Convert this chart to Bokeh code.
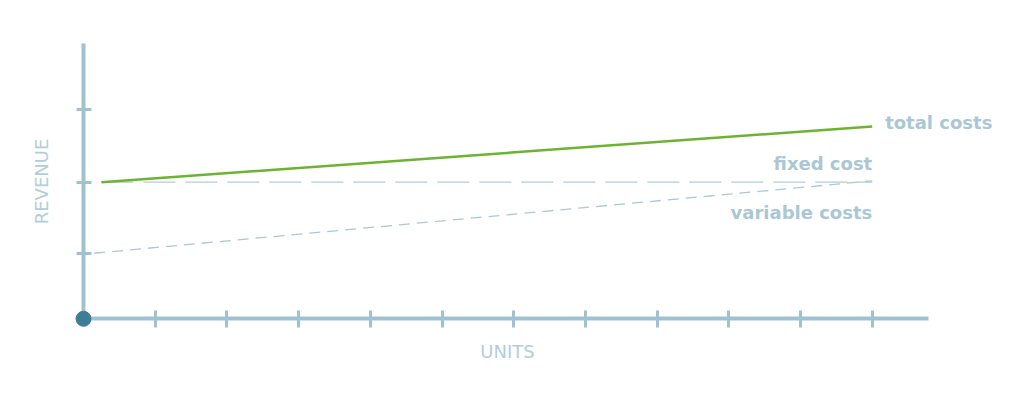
from bokeh.plotting import figure
from bokeh.models import Range1d, FixedTicker, LinearAxis
from bokeh.core.properties import value
from bokeh.embed import file_html
from bokeh.resources import INLINE

# ---- data ----
total_units = [0.25, 11.0]
total_costs = [2.0, 2.815]
fixed_units = [0.25, 11.0]
fixed_cost = [2.0, 2.0]
variable_units = [0.15, 11.0]
variable_costs = [0.96, 2.02]

unit_ticks = list(range(1, 12))
revenue_ticks = [0.96, 2.0, 3.07]
unit_bounds = (0, 11.78)
revenue_bounds = (0, 4.03)

label_texts = ["total costs", "fixed cost", "variable costs"]
label_x = [11.18, 11.0, 11.0]
label_y = [2.87, 2.27, 1.56]
label_align = ["left", "right", "right"]

AXIS = "#9fc2d2"
TEXT = "#a9c7d5"
AXTEXT = "#b1ceda"
GREEN = "#6bb330"
DOT = "#3f7c95"

p = figure(width=1008, height=385, output_backend="svg", toolbar_location=None,
           x_range=Range1d(-0.1813, 12.008), y_range=Range1d(-0.1713, 4.192),
           min_border_left=70, min_border_right=64, min_border_top=32, min_border_bottom=55)
p.outline_line_color = None
p.grid.visible = False
p.background_fill_color = "white"
p.border_fill_color = "white"

for ax, ticks, bounds in ((p.xaxis[0], unit_ticks, unit_bounds),
                          (p.yaxis[0], revenue_ticks, revenue_bounds)):
    ax.fixed_location = 0
    ax.bounds = bounds
    ax.ticker = FixedTicker(ticks=ticks)
    ax.major_label_overrides = {t: "" for t in ticks}
    ax.minor_tick_line_color = None
    ax.axis_line_color = AXIS
    ax.axis_line_width = 4
    ax.major_tick_line_color = AXIS
    ax.major_tick_line_width = 3

p.xaxis[0].major_tick_in = 8
p.xaxis[0].major_tick_out = 9
p.yaxis[0].major_tick_in = 8
p.yaxis[0].major_tick_out = 7

# axis titles carried by label-only axes at the frame edges
for side, title, standoff in (("below", "UNITS", 10), ("left", "REVENUE", 19)):
    lab = LinearAxis(ticker=FixedTicker(ticks=[]), axis_label=title,
                     axis_line_color=None, major_tick_line_color=None,
                     minor_tick_line_color=None, major_tick_in=0, major_tick_out=0,
                     minor_tick_in=0, minor_tick_out=0,
                     axis_label_standoff=standoff, axis_label_text_color=AXTEXT,
                     axis_label_text_font="DejaVu Sans",
                     axis_label_text_font_style="normal",
                     axis_label_text_font_size="18px")
    p.add_layout(lab, side)

p.line(variable_units, variable_costs, line_color="#a9c8d8", line_width=1.3, line_dash="11 7")
p.line(fixed_units, fixed_cost, line_color="#b6ccd6", line_width=1.3, line_dash="32 10")
p.line(total_units, total_costs, line_color=GREEN, line_width=2.5)

for t, x, y, a in zip(label_texts, label_x, label_y, label_align):
    r = p.text(x=[x], y=[y], text=[t], text_align=a, text_baseline="middle",
               text_font=value("DejaVu Sans"), text_font_style="bold",
               text_font_size="18px", text_color=TEXT)
    r.level = "overlay"

dot = p.scatter(x=[0], y=[0], size=15, color=DOT)
dot.level = "overlay"

open("out.html", "w").write(file_html(p, INLINE))
